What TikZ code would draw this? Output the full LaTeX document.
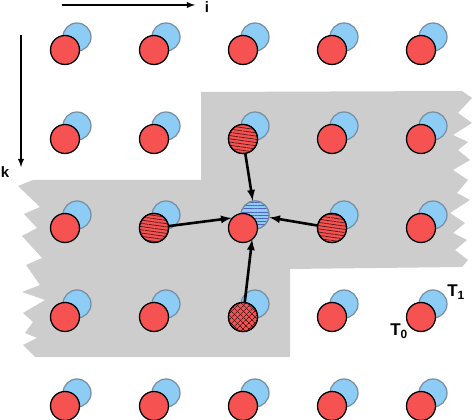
\documentclass[tikz,border=0pt]{standalone}
\usepackage{fontspec}
\setmainfont{Liberation Sans}
\usetikzlibrary{patterns.meta}

\definecolor{atomred}{RGB}{246,82,82}
\definecolor{atomblue}{RGB}{140,204,245}
\definecolor{atomrim}{RGB}{120,140,160}
\definecolor{slab}{RGB}{205,205,205}

\begin{document}
\begin{tikzpicture}[x=1pt,y=1pt]
    \def\dx{89pt}
    \def\dy{89pt}

    \tikzstyle{tzero}=[circle,draw=black,line width=1.3pt,fill=atomred,minimum size=29pt,inner sep=0pt]
    \tikzstyle{tone}=[circle,draw=atomrim,line width=1.2pt,fill=atomblue,minimum size=28pt,inner sep=0pt]
    \tikzstyle{hatched}=[tzero,preaction={fill=atomred},pattern={Lines[angle=-8,distance=3.2pt,line width=0.7pt]},pattern color=black!70!atomred]
    \tikzstyle{crossed}=[tzero,preaction={fill=atomred},pattern={Lines[angle=45,distance=4pt,line width=0.7pt]},pattern color=black!70!atomred,postaction={pattern={Lines[angle=-45,distance=4pt,line width=0.7pt]},pattern color=black!70!atomred}]
    \tikzstyle{lbl}=[font=\bfseries\fontsize{17}{19}\selectfont,inner sep=0pt]
    \tikzstyle{axlbl}=[font=\bfseries\fontsize{15}{17}\selectfont,inner sep=0pt]

    \useasboundingbox (0,0) rectangle (474,420);

    % grey region of the sweep
    \fill[slab] (201,328) -- (462,329) -- (472,322) -- (458,307) -- (472,297) -- (453,285)
        -- (468,278) -- (458,270) -- (470,260) -- (453,250) -- (468,240) -- (457,227)
        -- (470,220) -- (450,207) -- (465,197) -- (453,187) -- (467,180) -- (455,170)
        -- (468,160) -- (462,153) -- (290,151) -- (290,63) -- (35,63) -- (23,75)
        -- (37,82) -- (25,87) -- (33,98) -- (23,107) -- (45,120) -- (22,128) -- (40,135)
        -- (26,155) -- (42,162) -- (22,184) -- (37,192) -- (24,206) -- (40,213)
        -- (18,234) -- (33,240) -- (201,240) -- cycle;

    % axes
    \coordinate (i0) at (62,415);
    \coordinate (i1) at (195,415);
    \coordinate (k0) at (21,385);
    \coordinate (k1) at (21,253);
    \draw[-latex,line width=1.8pt] (i0) -- (i1);
    \draw[-latex,line width=1.8pt] (k0) -- (k1);
    \node[axlbl] (ilabel) at (207,413) {i};
    \node[axlbl] (klabel) at (5,248) {k};

    % T1 atoms behind
    \foreach \i in {0,...,4}
      \foreach \k in {0,...,4}
        \node[tone] (b-\i-\k) at (77pt+\i*\dx,383pt-\k*\dy) {};
    \node[tone,preaction={fill=atomblue},pattern={Lines[angle=0,distance=3.2pt,line width=0.7pt]},pattern color=atomrim!70!blue]
        at (b-2-2) {};

    % T0 atoms in front
    \foreach \i in {0,...,4}
      \foreach \k in {0,...,4}
        \node[tzero] (r-\i-\k) at (65pt+\i*\dx,370pt-\k*\dy) {};
    \node[hatched] at (r-2-1) {};
    \node[hatched] at (r-1-2) {};
    \node[hatched] at (r-3-2) {};
    \node[crossed] at (r-2-3) {};

    \node[lbl] (tzlabel) at (399,89) {T\textsubscript{0}};
    \node[lbl] (tolabel) at (456,128) {T\textsubscript{1}};

    \pgfsetarrowsend{latex}
    \tikzstyle{fwd} = [draw=black, line width=2.6pt]

          \draw [fwd] (r-2-1) -- (b-2-2);
          \draw [fwd] (r-3-2) -- (b-2-2);
          \draw [fwd,shorten >=9pt] (r-1-2) -- (b-2-2);
          \draw [fwd,shorten >=10pt] (r-2-3) -- (b-2-2);

\end{tikzpicture}
\end{document}
